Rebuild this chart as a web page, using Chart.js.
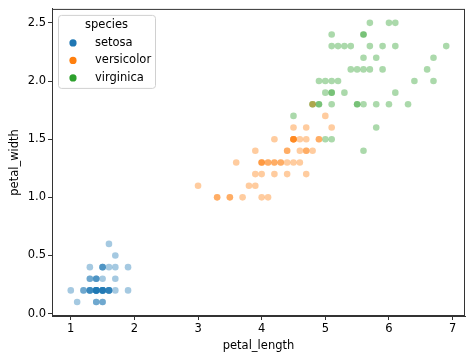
<!DOCTYPE html>
<html>
<head>
    <title>Iris petal scatter</title>
    <script src="https://cdn.jsdelivr.net/npm/chart.js"></script>
    <style>
        body { margin: 0; background: #fff; }
        #wrap { width: 474px; height: 361px; }
    </style>
</head>
<body>
<div id="wrap"><canvas id="chart"></canvas></div>
<script>
    // iris: petal_length / petal_width per species
    var species = ['setosa', 'versicolor', 'virginica'];
    var colors = ['31, 119, 180', '255, 127, 14', '44, 160, 44'];

    var setosaLength = [1.4,1.4,1.3,1.5,1.4,1.7,1.4,1.5,1.4,1.5,1.5,1.6,1.4,1.1,1.2,1.5,1.3,1.4,1.7,1.5,1.7,1.5,1.0,1.7,1.9,1.6,1.6,1.5,1.4,1.6,1.6,1.5,1.5,1.4,1.5,1.2,1.3,1.4,1.3,1.5,1.3,1.3,1.3,1.6,1.9,1.4,1.6,1.4,1.5,1.4];
    var setosaWidth  = [0.2,0.2,0.2,0.2,0.2,0.4,0.3,0.2,0.2,0.1,0.2,0.2,0.1,0.1,0.2,0.4,0.4,0.3,0.3,0.3,0.2,0.4,0.2,0.5,0.2,0.2,0.4,0.2,0.2,0.2,0.2,0.4,0.1,0.2,0.2,0.2,0.2,0.1,0.2,0.2,0.3,0.3,0.2,0.6,0.4,0.3,0.2,0.2,0.2,0.2];

    var versicolorLength = [4.7,4.5,4.9,4.0,4.6,4.5,4.7,3.3,4.6,3.9,3.5,4.2,4.0,4.7,3.6,4.4,4.5,4.1,4.5,3.9,4.8,4.0,4.9,4.7,4.3,4.4,4.8,5.0,4.5,3.5,3.8,3.7,3.9,5.1,4.5,4.5,4.7,4.4,4.1,4.0,4.4,4.6,4.0,3.3,4.2,4.2,4.2,4.3,3.0,4.1];
    var versicolorWidth  = [1.4,1.5,1.5,1.3,1.5,1.3,1.6,1.0,1.3,1.4,1.0,1.5,1.0,1.4,1.3,1.4,1.5,1.0,1.5,1.1,1.8,1.3,1.5,1.2,1.3,1.4,1.4,1.7,1.5,1.0,1.1,1.0,1.2,1.6,1.5,1.6,1.5,1.3,1.3,1.3,1.2,1.4,1.2,1.0,1.3,1.2,1.3,1.3,1.1,1.3];

    var virginicaLength = [6.0,5.1,5.9,5.6,5.8,6.6,4.5,6.3,5.8,6.1,5.1,5.3,5.5,5.0,5.1,5.3,5.5,6.7,6.9,5.0,5.7,4.9,6.7,4.9,5.7,6.0,4.8,4.9,5.6,5.8,6.1,6.4,5.6,5.1,5.6,6.1,5.6,5.5,4.8,5.4,5.6,5.1,5.1,5.9,5.7,5.2,5.0,5.2,5.4,5.1];
    var virginicaWidth  = [2.5,1.9,2.1,1.8,2.2,2.1,1.7,1.8,1.8,2.5,2.0,1.9,2.1,2.0,2.4,2.3,1.8,2.2,2.3,1.5,2.3,2.0,2.0,1.8,2.1,1.8,1.8,1.8,2.1,1.6,1.9,2.0,2.2,1.5,1.4,2.3,2.4,1.8,1.8,2.1,2.4,2.3,1.9,2.3,2.5,2.3,1.9,2.0,2.3,1.8];

    var xTicks = [1, 2, 3, 4, 5, 6, 7];
    var yTicks = [0.0, 0.5, 1.0, 1.5, 2.0, 2.5];

    function points(xs, ys) {
        return xs.map(function (x, i) { return { x: x, y: ys[i] }; });
    }

    var seriesData = [
        points(setosaLength, setosaWidth),
        points(versicolorLength, versicolorWidth),
        points(virginicaLength, virginicaWidth)
    ];

    var fontFamily = 'DejaVu Sans';
    var font = { family: fontFamily, size: 11.5 };
    Chart.defaults.color = '#000';

    // matplotlib-style full frame plus a seaborn-like legend on top of the points
    var framePlugin = {
        id: 'frame',
        afterDatasetsDraw: function (chart) {
            var a = chart.chartArea, c = chart.ctx;
            var lx = a.left + 6, ly = a.top + 6, lw = 97, lh = 73;
            c.save();
            c.fillStyle = 'rgba(255,255,255,0.8)';
            c.strokeStyle = '#d0d0d0';
            c.lineWidth = 1;
            c.beginPath();
            c.roundRect(lx + 0.5, ly + 0.5, lw, lh, 3);
            c.fill();
            c.stroke();

            c.fillStyle = '#000';
            c.font = '11.5px ' + fontFamily;
            c.textBaseline = 'middle';
            c.textAlign = 'center';
            c.fillText('species', lx + lw / 2, ly + 10);
            c.textAlign = 'left';
            species.forEach(function (name, i) {
                var y = ly + 28 + i * 17.5;
                c.fillStyle = 'rgb(' + colors[i] + ')';
                c.beginPath();
                c.arc(lx + 15, y, 3.6, 0, Math.PI * 2);
                c.fill();
                c.fillStyle = '#000';
                c.fillText(name, lx + 37, y);
            });
            c.restore();
        },
        afterDraw: function (chart) {
            var a = chart.chartArea, c = chart.ctx;
            c.save();
            c.strokeStyle = '#333';
            c.lineWidth = 1;
            c.strokeRect(a.left + 0.5, a.top + 0.5, a.right - a.left - 1, a.bottom - a.top - 1);
            c.restore();
        }
    };

    var ctx = document.getElementById('chart').getContext('2d');
    var chart = new Chart(ctx, {
        type: 'scatter',
        data: {
            datasets: species.map(function (name, i) {
                return {
                    label: name,
                    data: seriesData[i],
                    backgroundColor: 'rgba(' + colors[i] + ', 0.4)',
                    borderWidth: 0,
                    pointRadius: 3.3,
                    pointHoverRadius: 3.3
                };
            })
        },
        options: {
            responsive: true,
            maintainAspectRatio: false,
            animation: false,
            layout: { padding: { top: 8, right: 9, left: 4, bottom: 4 } },
            scales: {
                x: {
                    type: 'linear',
                    min: 0.705,
                    max: 7.195,
                    afterBuildTicks: function (s) { s.ticks = xTicks.map(function (v) { return { value: v }; }); },
                    afterFit: function (s) { s.height = 41; },
                    ticks: { font: font, padding: 2, maxRotation: 0, callback: function (v) { return v; } },
                    grid: { drawOnChartArea: false, tickLength: 4, color: '#333' },
                    border: { color: '#333' },
                    title: { display: true, text: 'petal_length', font: font, padding: { top: 2 } }
                },
                y: {
                    type: 'linear',
                    min: -0.02,
                    max: 2.62,
                    afterBuildTicks: function (s) { s.ticks = yTicks.map(function (v) { return { value: v }; }); },
                    afterFit: function (s) { s.width = 48; },
                    ticks: { font: font, padding: 2, callback: function (v) { return v.toFixed(1); } },
                    grid: { drawOnChartArea: false, tickLength: 4, color: '#333' },
                    border: { color: '#333' },
                    title: { display: true, text: 'petal_width', font: font, padding: { bottom: 2 } }
                }
            },
            plugins: {
                tooltip: { enabled: false },
                legend: { display: false }
            }
        },
        plugins: [framePlugin]
    });
</script>
</body>
</html>
